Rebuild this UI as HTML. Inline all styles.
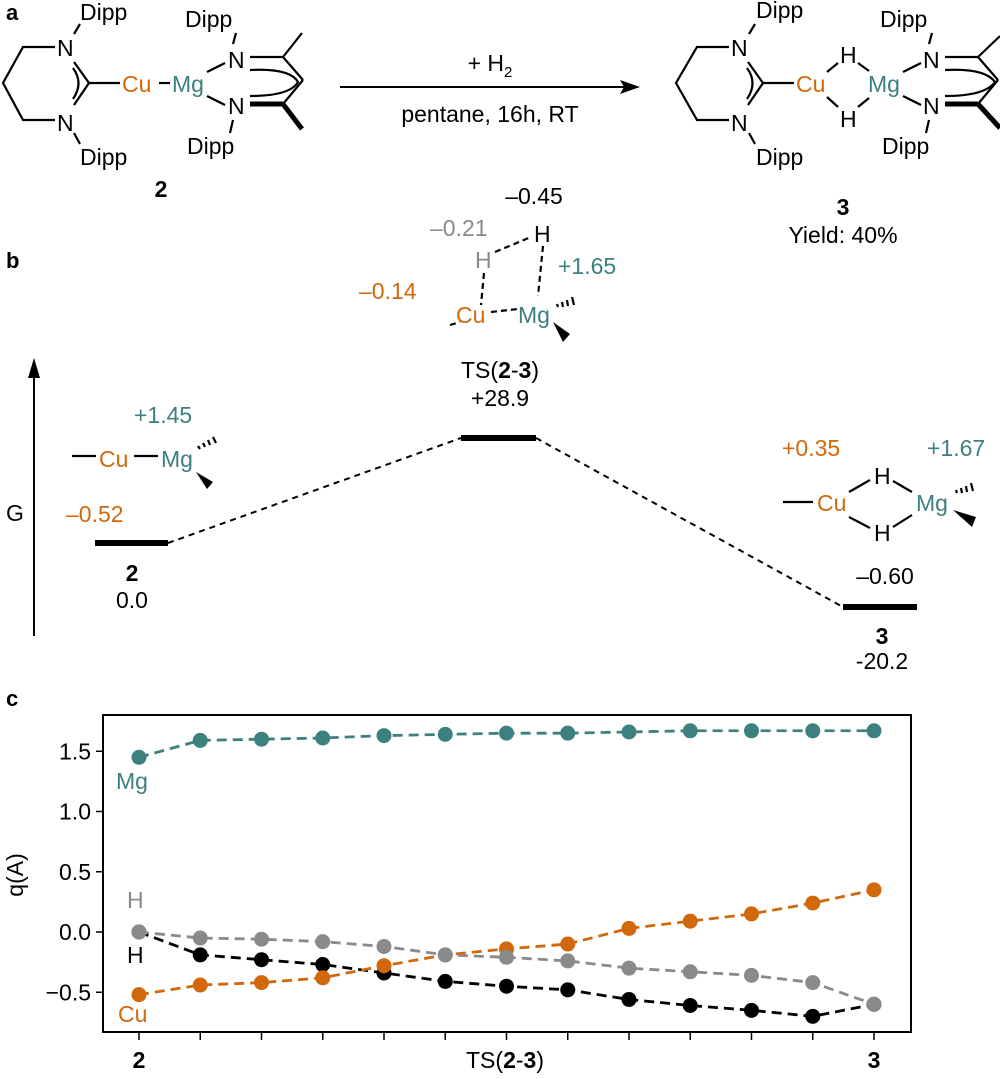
<!DOCTYPE html>
<html><head><meta charset="utf-8"><style>
html,body{margin:0;padding:0;background:#fff}
svg{display:block;font-family:"Liberation Sans",sans-serif}
.o{fill:#d2680c}.t{fill:#3d8080}.g{fill:#8a8a8a}
</style></head><body>
<svg width="1000" height="1079" viewBox="0 0 1000 1079">
<g font-size="23" stroke-linecap="butt">
<text x="6" y="20" font-weight="bold" font-size="22">a</text>
<g stroke="#000" stroke-width="2.2" fill="none">
<polyline points="55,47 23,47 3,83 23,120 55,120"/>
<line x1="74" y1="34" x2="80" y2="24"/><line x1="74" y1="133" x2="80" y2="144"/>
<line x1="74" y1="62" x2="89" y2="83"/><line x1="74" y1="105" x2="89" y2="83"/>
<path d="M73,68 Q84,83 73,99"/>
<line x1="89" y1="83" x2="120" y2="83"/><line x1="159" y1="83" x2="170" y2="83"/>
<line x1="207" y1="72" x2="225" y2="63"/><line x1="207" y1="96" x2="225" y2="105"/>
<line x1="233" y1="44" x2="236" y2="33"/><line x1="233" y1="120" x2="230" y2="133"/>
<polyline points="250,57 283,57 303,80"/><line x1="283" y1="57" x2="302" y2="33"/>
<path d="M250,70 Q290,68 298,82 Q290,96 250,96"/>
<line x1="250" y1="104" x2="283" y2="104" stroke-width="5"/>
<line x1="283" y1="104" x2="303" y2="80"/>
<line x1="283" y1="104" x2="302" y2="129" stroke-width="5"/>
</g>
<text x="80" y="20">Dipp</text>
<text x="80" y="165">Dipp</text>
<text x="57" y="56">N</text><text x="57" y="131">N</text>
<text x="122" y="92" class="o">Cu</text>
<text x="172" y="92" class="t">Mg</text>
<text x="228" y="68">N</text><text x="228" y="114">N</text>
<text x="185" y="27">Dipp</text><text x="187" y="154">Dipp</text>
<text x="161" y="197" text-anchor="middle" font-weight="bold">2</text>

<g>
<line x1="340" y1="87" x2="625" y2="87" stroke="#000" stroke-width="2"/>
<polygon points="640,87 620,80 624,87 620,94" fill="#000"/>
</g>
<text x="490" y="71" text-anchor="middle">+ H<tspan font-size="15" dy="6">2</tspan></text>
<text x="490" y="122" text-anchor="middle">pentane, 16h, RT</text>

<g stroke="#000" stroke-width="2.2" fill="none">
<polyline points="729,47 697,47 676,83 697,120 729,120"/>
<line x1="749" y1="34" x2="755" y2="24"/><line x1="749" y1="133" x2="755" y2="144"/>
<line x1="748" y1="62" x2="763" y2="83"/><line x1="748" y1="105" x2="763" y2="83"/>
<path d="M747,68 Q758,83 747,99"/>
<line x1="763" y1="83" x2="794" y2="83"/>
<line x1="827" y1="72" x2="838" y2="63"/><line x1="827" y1="97" x2="838" y2="107"/>
<line x1="858" y1="63" x2="869" y2="71"/><line x1="858" y1="107" x2="869" y2="98"/>
<line x1="903" y1="72" x2="921" y2="63"/><line x1="903" y1="96" x2="921" y2="105"/>
<line x1="929" y1="44" x2="932" y2="33"/><line x1="929" y1="120" x2="926" y2="133"/>
<polyline points="945,57 978,57 998,80"/><line x1="978" y1="57" x2="1000" y2="36"/>
<path d="M945,70 Q985,68 995,82 Q985,96 945,96"/>
<line x1="945" y1="104" x2="978" y2="104" stroke-width="5"/>
<line x1="978" y1="104" x2="998" y2="80"/>
<line x1="978" y1="104" x2="1000" y2="128" stroke-width="5"/>
</g>
<text x="756" y="18">Dipp</text><text x="756" y="165">Dipp</text>
<text x="731" y="56">N</text><text x="731" y="131">N</text>
<text x="796" y="92" class="o">Cu</text>
<text x="840" y="63">H</text><text x="840" y="127">H</text>
<text x="868" y="92" class="t">Mg</text>
<text x="923" y="68">N</text><text x="923" y="114">N</text>
<text x="880" y="27">Dipp</text><text x="882" y="154">Dipp</text>
<text x="843" y="215" text-anchor="middle" font-weight="bold">3</text>
<text x="843" y="243" text-anchor="middle">Yield: 40%</text>

<text x="6" y="268" font-weight="bold" font-size="22">b</text>
<g>
<line x1="34" y1="375" x2="34" y2="636" stroke="#000" stroke-width="2"/>
<polygon points="34,358 28,378 40,378" fill="#000"/>
</g>
<text x="6" y="521">G</text>

<g stroke="#000" stroke-width="2" fill="none" stroke-dasharray="6,5">
<line x1="168" y1="543" x2="461" y2="438"/><line x1="536" y1="438" x2="843" y2="607"/>
</g>
<g fill="#000">
<rect x="95" y="540" width="73" height="6"/>
<rect x="461" y="435" width="75" height="6"/>
<rect x="843" y="604" width="74" height="6"/>
</g>
<g stroke="#000" stroke-width="2.2">
<line x1="72" y1="456" x2="96" y2="456"/><line x1="134" y1="456" x2="158" y2="456"/>
<line x1="198" y1="446" x2="200" y2="449"/><line x1="203" y1="443" x2="205" y2="447"/><line x1="208" y1="440" x2="210" y2="445"/><line x1="213" y1="437" x2="216" y2="443"/>
</g>
<polygon points="196,472 213,482 207,489" fill="#000"/>
<text x="134" y="423" class="t">+1.45</text>
<text x="99" y="467" class="o">Cu</text><text x="161" y="467" class="t">Mg</text>
<text x="66" y="522" class="o">–0.52</text>
<text x="132" y="581" text-anchor="middle" font-weight="bold">2</text>
<text x="132" y="608" text-anchor="middle">0.0</text>
<g stroke="#000" stroke-width="2.2" stroke-dasharray="6,4">
<line x1="495" y1="252" x2="531" y2="237"/><line x1="484" y1="273" x2="481" y2="305"/>
<line x1="543" y1="246" x2="538" y2="296"/><line x1="491" y1="312" x2="518" y2="309"/>
<line x1="450" y1="325" x2="460" y2="322"/>
</g>
<g stroke="#000" stroke-width="2.2">
<line x1="557" y1="304" x2="558" y2="307"/><line x1="562" y1="302" x2="563" y2="307"/><line x1="567" y1="300" x2="568" y2="306"/><line x1="572" y1="297" x2="574" y2="305"/>
</g>
<polygon points="553,322 570,334 563,342" fill="#000"/>
<text x="534" y="204" text-anchor="middle">–0.45</text>
<text x="430" y="236" class="g">–0.21</text>
<text x="534" y="242">H</text>
<text x="475" y="268" class="g">H</text>
<text x="558" y="274" class="t">+1.65</text>
<text x="359" y="299" class="o">–0.14</text>
<text x="456" y="323" class="o">Cu</text><text x="518" y="323" class="t">Mg</text>
<text x="500" y="378" text-anchor="middle">TS(<tspan font-weight="bold">2</tspan>-<tspan font-weight="bold">3</tspan>)</text>
<text x="500" y="406" text-anchor="middle">+28.9</text>
<g stroke="#000" stroke-width="2.2">
<line x1="783" y1="502" x2="813" y2="502"/>
<line x1="849" y1="492" x2="870" y2="480"/><line x1="849" y1="517" x2="870" y2="528"/>
<line x1="893" y1="481" x2="912" y2="492"/><line x1="893" y1="527" x2="912" y2="515"/>
<line x1="956" y1="490" x2="957" y2="493"/><line x1="961" y1="488" x2="962" y2="493"/><line x1="966" y1="486" x2="967" y2="492"/><line x1="971" y1="483" x2="973" y2="491"/>
</g>
<polygon points="953,510 976,517 972,527" fill="#000"/>
<text x="782" y="456" class="o">+0.35</text>
<text x="927" y="456" class="t">+1.67</text>
<text x="817" y="511" class="o">Cu</text>
<text x="874" y="484">H</text><text x="874" y="541">H</text>
<text x="916" y="511" class="t">Mg</text>
<text x="885" y="584" text-anchor="middle">–0.60</text>
<text x="882" y="644" text-anchor="middle" font-weight="bold">3</text>
<text x="882" y="669" text-anchor="middle">-20.2</text>

<text x="6" y="706" font-weight="bold" font-size="22">c</text>
<g id="chart"></g>
</g>
</svg>
<script>
const steps = [0,1,2,3,4,5,6,7,8,9,10,11,12];
const mgVals = [1.45,1.59,1.60,1.61,1.63,1.64,1.65,1.65,1.66,1.67,1.67,1.67,1.67];
const cuVals = [-0.52,-0.44,-0.42,-0.38,-0.28,-0.19,-0.14,-0.10,0.03,0.09,0.15,0.24,0.35];
const hGrayVals = [0,-0.05,-0.06,-0.08,-0.12,-0.19,-0.21,-0.24,-0.30,-0.33,-0.36,-0.42,-0.60];
const hBlackVals = [0,-0.19,-0.23,-0.27,-0.34,-0.41,-0.45,-0.48,-0.56,-0.61,-0.65,-0.70,-0.60];
const yTicks = [1.5,1.0,0.5,0.0,-0.5];
const yTickLabels = ["1.5","1.0","0.5","0.0","\u22120.5"];

const NS="http://www.w3.org/2000/svg";
const g=document.getElementById('chart');
const X0=103,X1=911,Y0=715,Y1=1032;
const xs=i=>139+i*(874-139)/12;
const ys=v=>932-v*120.5;
function mk(t,a,p){const e=document.createElementNS(NS,t);for(const k in a)e.setAttribute(k,a[k]);(p||g).appendChild(e);return e;}
const frame=mk('rect',{x:X0,y:Y0,width:X1-X0,height:Y1-Y0,fill:'none',stroke:'#000','stroke-width':2});


yTicks.forEach((v,i)=>{
  mk('line',{x1:X0-7,x2:X0,y1:ys(v),y2:ys(v),stroke:'#000','stroke-width':1.5});
  const t=mk('text',{x:X0-12,y:ys(v)+8,'text-anchor':'end'});t.textContent=yTickLabels[i];
  
  
});
steps.forEach(i=>{mk('line',{x1:xs(i),x2:xs(i),y1:Y1,y2:Y1+8,stroke:'#000','stroke-width':1.5});});
const yt=mk('text',{x:0,y:0,transform:'translate(23,875) rotate(-90)','text-anchor':'middle'});yt.textContent='q(A)';


const xl1=mk('text',{x:139,y:1068,'text-anchor':'middle','font-weight':'bold'});xl1.textContent='2';


const xl2=mk('text',{x:505,y:1068,'text-anchor':'middle'});xl2.innerHTML='TS(<tspan font-weight="bold">2</tspan>-<tspan font-weight="bold">3</tspan>)';


const xl3=mk('text',{x:874,y:1068,'text-anchor':'middle','font-weight':'bold'});xl3.textContent='3';


function series(vals,col,name){
  const s=mk('g',{});
  
  
  mk('polyline',{points:vals.map((v,i)=>xs(i)+','+ys(v)).join(' '),fill:'none',stroke:col,'stroke-width':2.8,'stroke-dasharray':'10,6'},s);
  vals.forEach((v,i)=>{const c=mk('circle',{cx:xs(i),cy:ys(v),r:7.5,fill:col},s);
    
    });
}
series(mgVals,'#3d8080','mg');
series(hBlackVals,'#000','h-black');
series(cuVals,'#d2680c','cu');
series(hGrayVals,'#8a8a8a','h-gray');
[['Mg',116,789,'#3d8080'],['H',127,908,'#8a8a8a'],['H',127,963,'#000'],['Cu',118,1022,'#d2680c']].forEach(a=>{
  const t=mk('text',{x:a[1],y:a[2],fill:a[3]});t.textContent=a[0];
  
  
});
</script>
</body></html>
